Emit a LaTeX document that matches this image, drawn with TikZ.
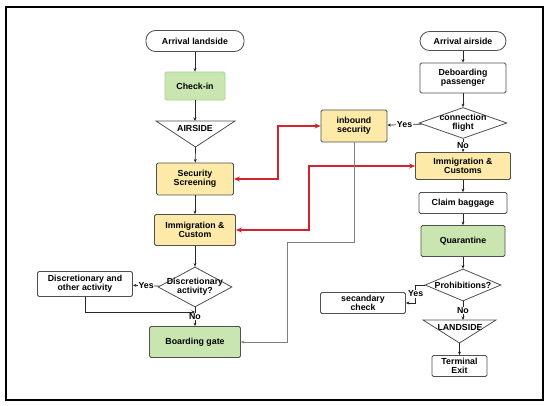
\documentclass[tikz,border=0pt]{standalone}
\usepackage{fontspec}
\setmainfont{Liberation Sans}
\usetikzlibrary{shapes.geometric, arrows.meta}

\definecolor{boxgreen}{RGB}{201,230,177}
\definecolor{greenedge}{RGB}{165,212,140}
\definecolor{boxyellow}{RGB}{253,234,168}
\definecolor{edgegray}{RGB}{80,80,80}
\definecolor{flowred}{RGB}{211,35,47}

\tikzset{
  flowtext/.style={font=\bfseries\fontsize{8.8}{9}\selectfont, align=center},
  terminal/.style={flowtext, rectangle, rounded corners=9.5pt, draw=edgegray, line width=0.8pt, fill=white, inner sep=0pt},
  process/.style={flowtext, rectangle, rounded corners=1.5pt, draw=edgegray, line width=0.8pt, fill=white, inner sep=0pt},
  decision/.style={diamond, draw=edgegray, line width=0.8pt, fill=white, inner sep=0pt},
  choice/.style={flowtext, fill=white, inner sep=0.5pt},
  flowarrow/.style={-{Stealth[length=3.5pt,width=3pt]}, draw=black!85, line width=0.7pt},
  redarrow/.style={{Stealth[length=6pt,width=5pt]}-{Stealth[length=6pt,width=5pt]}, draw=flowred, line width=2.5pt},
}

\begin{document}
\begin{tikzpicture}[x=1pt, y=-1pt]
        \useasboundingbox (0,0) rectangle (550,406);
        \draw[line width=2pt] (6,7) rectangle (543,400);

        % Departure
        \node[terminal, minimum width=98, minimum height=21] (landside) at (195,41) {Arrival landside};
        \node[process, fill=boxgreen, draw=greenedge, minimum width=60, minimum height=28] (checkin) at (195,86) {Check-in};
        \node[flowtext] (airside) at (195,128) {AIRSIDE};
        \draw[edgegray, line width=0.8pt] (156,121) coordinate (airL) -- (235,121) coordinate (airR) -- (195.5,147) coordinate (airA) -- cycle;
        \node[process, fill=boxyellow, minimum width=77, minimum height=32] (security) at (195,179) {Security\\Screening};
        \node[process, fill=boxyellow, minimum width=81, minimum height=31] (immig) at (195,230) {Immigration \&\\Custom};
        \node[decision, minimum width=74, minimum height=40] (disc) at (195,287) {};
        \node[flowtext] (disctext) at (disc) {Discretionary\\activity?};
        \node[process, minimum width=95, minimum height=25] (other) at (85,284) {Discretionary and\\other activity};
        \node[process, fill=boxgreen, minimum width=91, minimum height=31] (boarding) at (195,342) {Boarding gate};
        \coordinate (join) at (195,312);

        % Arrival
        \node[terminal, minimum width=86, minimum height=19] (airsidearr) at (463,41) {Arrival airside};
        \node[process, minimum width=86, minimum height=30] (deboard) at (463,78) {Deboarding\\passenger};
        \node[decision, minimum width=88, minimum height=31] (connect) at (463,123) {};
        \node[flowtext] (connecttext) at (connect) {connection\\flight};
        \node[process, fill=boxyellow, minimum width=66, minimum height=32] (inbound) at (354,126) {inbound\\security};
        \node[process, fill=boxyellow, minimum width=95, minimum height=27] (immcust) at (463,166) {Immigration \&\\Customs};
        \node[process, minimum width=88, minimum height=21] (claim) at (463,203) {Claim baggage};
        \node[process, fill=boxgreen, minimum width=84, minimum height=31] (quarantine) at (463,241) {Quarantine};
        \node[decision, minimum width=76, minimum height=32] (prohib) at (463,285) {};
        \node[flowtext] (prohibtext) at (prohib) {Prohibitions?};
        \node[process, minimum width=85, minimum height=21] (secondary) at (363,303) {secandary\\check};
        \node[flowtext] (landsidegate) at (460,327) {LANDSIDE};
        \draw[edgegray, line width=0.8pt] (423,320) coordinate (landL) -- (496,320) coordinate (landR) -- (459.5,343) coordinate (landA) -- cycle;
        \node[process, minimum width=55, minimum height=21] (exit) at (459.5,366) {Terminal\\Exit};

        \draw[flowarrow] (landside) -- (checkin);
        \draw[flowarrow] (checkin) -- (checkin |- airL);
        \draw[flowarrow] (airA) -- (security);
        \draw[flowarrow] (security) -- (immig);
        \draw[flowarrow] (immig) -- (disc);
        \draw[flowarrow] (disc) -- node[choice] {Yes} (other);
        \draw[flowarrow] (disc) -- node[choice] {No} (boarding);
        \draw[flowarrow] (other) |- (join);

        \draw[flowarrow] (airsidearr) -- (deboard);
        \draw[flowarrow] (deboard) -- (connect);
        \draw[flowarrow] (connect) -- node[choice] {Yes} (inbound);
        \draw[flowarrow] (connect) -- node[choice] {No} (immcust);
        \draw[flowarrow] (immcust) -- (claim);
        \draw[flowarrow] (claim) -- (quarantine);
        \draw[flowarrow] (quarantine) -- (prohib);
        \draw[flowarrow] (prohib.west) -- ++(-9,0) |- node[choice, pos=0.25] {Yes} (secondary);
        \draw[flowarrow] (prohib.south) -- node[choice] {No} (prohib.south |- landL);
        \draw[flowarrow] (landA) -- (exit);

        % transfer flows
        \draw[redarrow] (security.east) -- ++(44,0) |- (inbound.west);
        \draw[redarrow] (immig.east) -- ++(73,0) |- (immcust.west);
        \draw[flowarrow, draw=gray] (inbound.south) |- (287,242) |- (boarding.east);
    \end{tikzpicture}
\end{document}
